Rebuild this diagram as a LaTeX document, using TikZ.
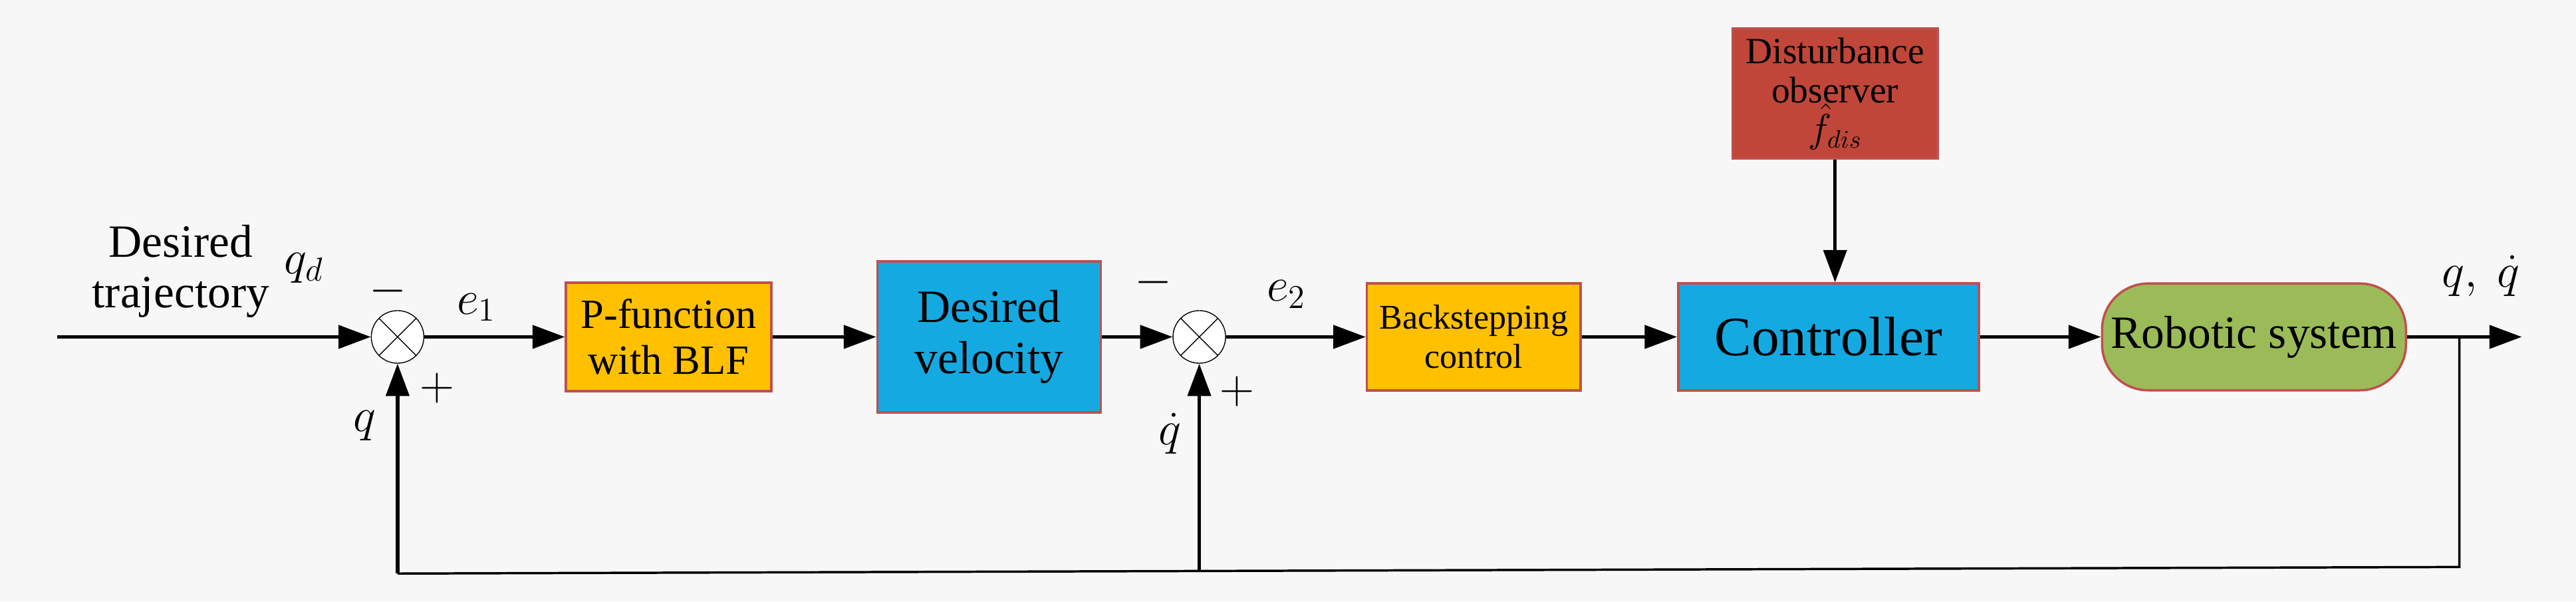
\documentclass[tikz,border=0pt]{standalone}
\usepackage{fontspec}
\setmainfont{Liberation Serif}
\usetikzlibrary{arrows.meta, positioning}
\definecolor{boxorange}{HTML}{FFC000}
\definecolor{boxblue}{HTML}{14A9E0}
\definecolor{boxgreen}{HTML}{9BBB59}
\definecolor{boxred}{HTML}{C0463A}
\definecolor{edgered}{HTML}{C0504D}
\begin{document}
\begin{tikzpicture}[x=0.025cm, y=-0.025cm,
    blk/.style={draw=edgered, line width=1pt, minimum height=#1, align=center, inner sep=2pt},
    sum/.style={draw, circle, fill=white, minimum size=32*0.025cm, inner sep=0pt,
      path picture={\draw (path picture bounding box.north west) -- (path picture bounding box.south east)
        (path picture bounding box.north east) -- (path picture bounding box.south west);}},
    sig/.style={line width=1.5pt, -{Triangle[length=14pt,width=10pt]}},
    fb/.style={line width=1pt},
    lbl/.style={font=\fontsize{20}{22}\selectfont}]
  \fill[black!3] (0,0) rectangle (1568,366);
  \useasboundingbox (0,0) rectangle (1568,366);
  \def\ya{205} % height of the main path

  % blocks
  \node[sum] (s1) at (242,\ya) {};
  \node[sum] (s2) at (730,\ya) {};
  \node[blk=66*0.025cm, fill=boxorange, minimum width=125*0.025cm, font=\fontsize{18}{20}\selectfont] (pf) at (407,\ya) {P-function\\with BLF};
  \node[blk=92*0.025cm, fill=boxblue, minimum width=136*0.025cm, lbl] (dv) at (602,\ya) {Desired\\velocity};
  \node[blk=65*0.025cm, fill=boxorange, minimum width=130*0.025cm, font=\fontsize{15}{17}\selectfont] (bs) at (897,\ya) {Backstepping\\control};
  \node[blk=65*0.025cm, fill=boxblue, minimum width=183*0.025cm, font=\fontsize{24}{26}\selectfont] (ct) at (1113,\ya) {Controller};
  \node[blk=65*0.025cm, fill=boxgreen, minimum width=185*0.025cm, rounded corners=20pt, font=\fontsize{20}{22}\selectfont] (rs) at (1372,\ya) {Robotic system};
  \node[blk=79*0.025cm, fill=boxred, minimum width=125*0.025cm, font=\fontsize{16}{17}\selectfont] (do) at (1117,57) {Disturbance\\observer\\$\hat{f}_{dis}$};
  \foreach \a/\b in {s1/pf, pf/dv, dv/s2, s2/bs, bs/ct, ct/rs}
    \draw[sig] (\a) -- (\b);
  \draw[sig] (do) -- (do |- ct.north);

  % input, output and feedback
  \coordinate (in) at (35,\ya);
  \coordinate (out) at (1535,\ya);
  \coordinate (br) at (1497,\ya);
  \coordinate (c1) at (1497,345);
  \coordinate (c2) at (242,349);
  \coordinate (c3) at (730,347);
  \draw[sig] (in) -- (s1);
  \draw[sig] (rs) -- (out);
  \draw[fb] (br) -- (c1) -- (c2);
  \draw[sig] (c2) -- (s1);
  \draw[sig] (c3) -- (s2);

  % labels
  \node[lbl, align=center] (dt) at (110,165) {Desired\\trajectory};
  \node[lbl] (qd) at (185,163) {$q_d$};
  \node[lbl] (m1) at (236,177) {$-$};
  \node[lbl] (p1) at (266,236) {$+$};
  \node[lbl] (q1) at (222,259) {$q$};
  \node[lbl] (e1) at (290,187) {$e_1$};
  \node[lbl] (m2) at (702,172) {$-$};
  \node[lbl] (e2) at (783,179) {$e_2$};
  \node[lbl] (p2) at (753,238) {$+$};
  \node[lbl] (q2) at (712,264) {$\dot{q}$};
  \node[lbl] (qo) at (1510,168) {$q,\ \dot{q}$};
\end{tikzpicture}
\end{document}
